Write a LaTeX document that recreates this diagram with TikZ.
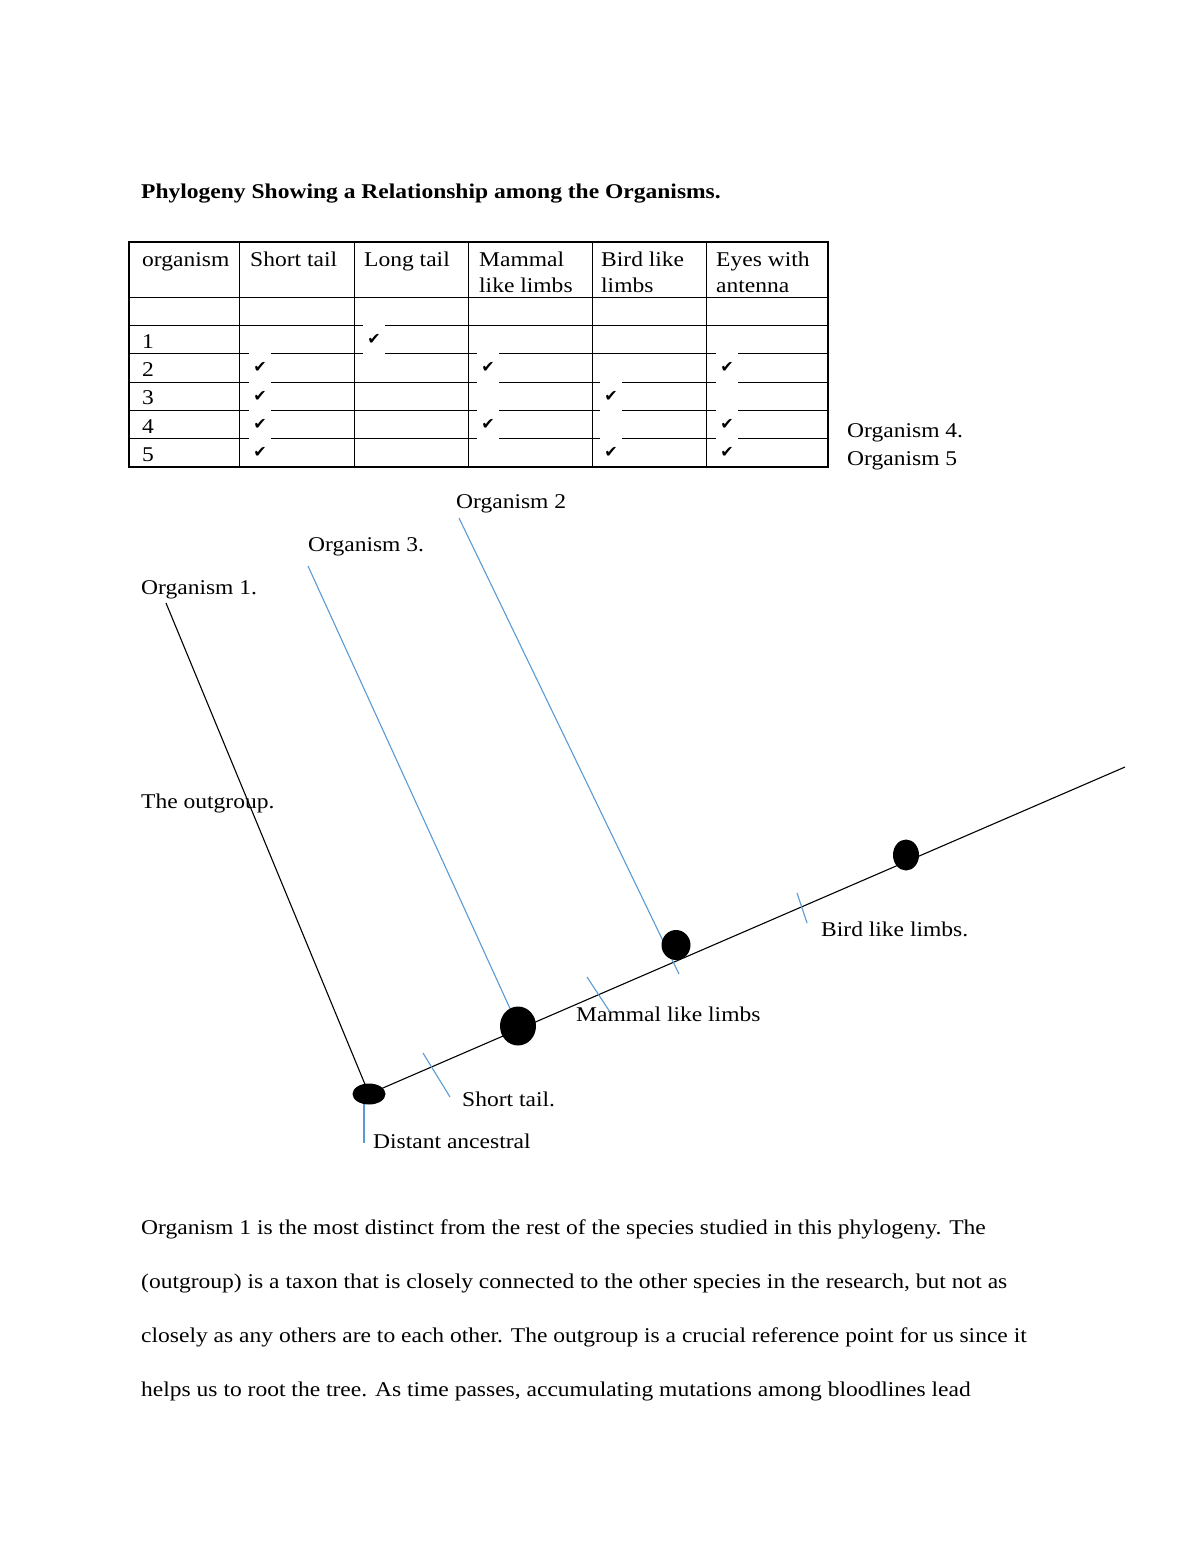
\documentclass[tikz,border=0pt]{standalone}
\usepackage{fontspec}
\usetikzlibrary{shapes.geometric}
\setmainfont{Liberation Serif}[FakeStretch=1.12]
\newfontfamily\symfont{DejaVu Sans}
\definecolor{lblue}{RGB}{91,155,213}
\begin{document}
\begin{tikzpicture}[x=1pt,y=-1pt,
  txt/.style={anchor=base west, inner sep=0pt, font=\fontsize{21}{25}\selectfont},
  ttl/.style={anchor=base west, inner sep=0pt, font=\fontsize{21}{25}\selectfont\bfseries},
  chk/.style={fill=white, inner sep=0pt, minimum width=22pt, minimum height=31pt, font=\symfont\fontsize{16}{16}\selectfont},
  blob/.style={ellipse, fill=black, inner sep=0pt},
  grid/.style={line width=1pt},
  outer/.style={line width=2pt},
  bl/.style={lblue, line width=1.1pt},
  bk/.style={black, line width=1.1pt}]
\useasboundingbox (0,0) rectangle (1200,1553);
\fill[white] (0,0) rectangle (1200,1553);

% title
\node[ttl] (title) at (141,198) {Phylogeny Showing a Relationship among the Organisms.};

% table grid
\foreach \x in {239,354,468,592,706} \draw[grid] (\x,242) -- (\x,467);
\foreach \y in {297,325,353,382,410,438} \draw[grid] (129,\y) -- (828,\y);

% header
\node[txt] (h1) at (142,266) {organism};
\node[txt] (h2) at (250,266) {Short tail};
\node[txt] (h3) at (364,266) {Long tail};
\node[txt] (h4a) at (479,266) {Mammal};
\node[txt] (h4b) at (479,292) {like limbs};
\node[txt] (h5a) at (601,266) {Bird like};
\node[txt] (h5b) at (601,292) {limbs};
\node[txt] (h6a) at (716,266) {Eyes with};
\node[txt] (h6b) at (716,292) {antenna};

% row numbers
\node[txt] (r1) at (142,348) {1};
\node[txt] (r2) at (142,376) {2};
\node[txt] (r3) at (142,404) {3};
\node[txt] (r4) at (142,433) {4};
\node[txt] (r5) at (142,461) {5};

% checks
\node[chk] (c11) at (374,339) {✔};
\node[chk] (c21) at (260,367) {✔};
\node[chk] (c22) at (488,367) {✔};
\node[chk] (c23) at (727,367) {✔};
\node[chk] (c31) at (260,396) {✔};
\node[chk] (c32) at (611,396) {✔};
\node[chk] (c41) at (260,424) {✔};
\node[chk] (c42) at (488,424) {✔};
\node[chk] (c43) at (727,424) {✔};
\node[chk] (c51) at (260,452) {✔};
\node[chk] (c52) at (611,452) {✔};
\node[chk] (c53) at (727,452) {✔};

\draw[outer] (129,242) rectangle (828,467);

% side labels
\node[txt] (o4) at (847,437) {Organism 4.};
\node[txt] (o5) at (847,465) {Organism 5};

% tree labels
\node[txt] (o2) at (456,508) {Organism 2};
\node[txt] (o3) at (308,551) {Organism 3.};
\node[txt] (o1) at (141,594) {Organism 1.};
\node[txt] (og) at (141,808) {The outgroup.};
\node[txt] (lb) at (821,936) {Bird like limbs.};
\node[txt] (lm) at (576,1021) {Mammal like limbs};
\node[txt] (ls) at (462,1106) {Short tail.};
\node[txt] (ld) at (373,1148) {Distant ancestral};

% tree coordinates
\coordinate (tipR) at (1125,767);
\coordinate (tip1) at (166,603);
\coordinate (tip3) at (308,566);
\coordinate (tip2) at (459,518);
\coordinate (tip2b) at (679,974);
\coordinate (rootc) at (369,1094);

% lines
\draw[bk] (rootc) -- (tipR);
\draw[bk] (tip1) -- (rootc);
\draw[bl] (tip3) -- (518,1026);
\draw[bl] (tip2) -- (tip2b);

% ticks
\coordinate (ts1) at (423,1053); \coordinate (ts2) at (450,1097);
\coordinate (tm1) at (587,977); \coordinate (tm2) at (610,1012);
\coordinate (tb1) at (797,893); \coordinate (tb2) at (807,923);
\coordinate (td1) at (364,1100); \coordinate (td2) at (364,1143);
\draw[bl] (ts1) -- (ts2);
\draw[bl] (tm1) -- (tm2);
\draw[bl] (tb1) -- (tb2);
\draw[bl] (td1) -- (td2);

% nodes
\node[blob, minimum width=33pt, minimum height=21pt] (root) at (rootc) {};
\node[blob, minimum width=36pt, minimum height=39pt] (n3) at (518,1026) {};
\node[blob, minimum width=29pt, minimum height=30pt] (n2) at (676,945) {};
\node[blob, minimum width=26pt, minimum height=31pt] (n45) at (906,855) {};

% paragraph
\node[txt] (p1) at (141,1234) {Organism 1 is the most distinct from the rest of the species studied in this phylogeny. The};
\node[txt] (p2) at (141,1288) {(outgroup) is a taxon that is closely connected to the other species in the research, but not as};
\node[txt] (p3) at (141,1342) {closely as any others are to each other. The outgroup is a crucial reference point for us since it};
\node[txt] (p4) at (141,1396) {helps us to root the tree. As time passes, accumulating mutations among bloodlines lead};
\end{tikzpicture}
\end{document}
